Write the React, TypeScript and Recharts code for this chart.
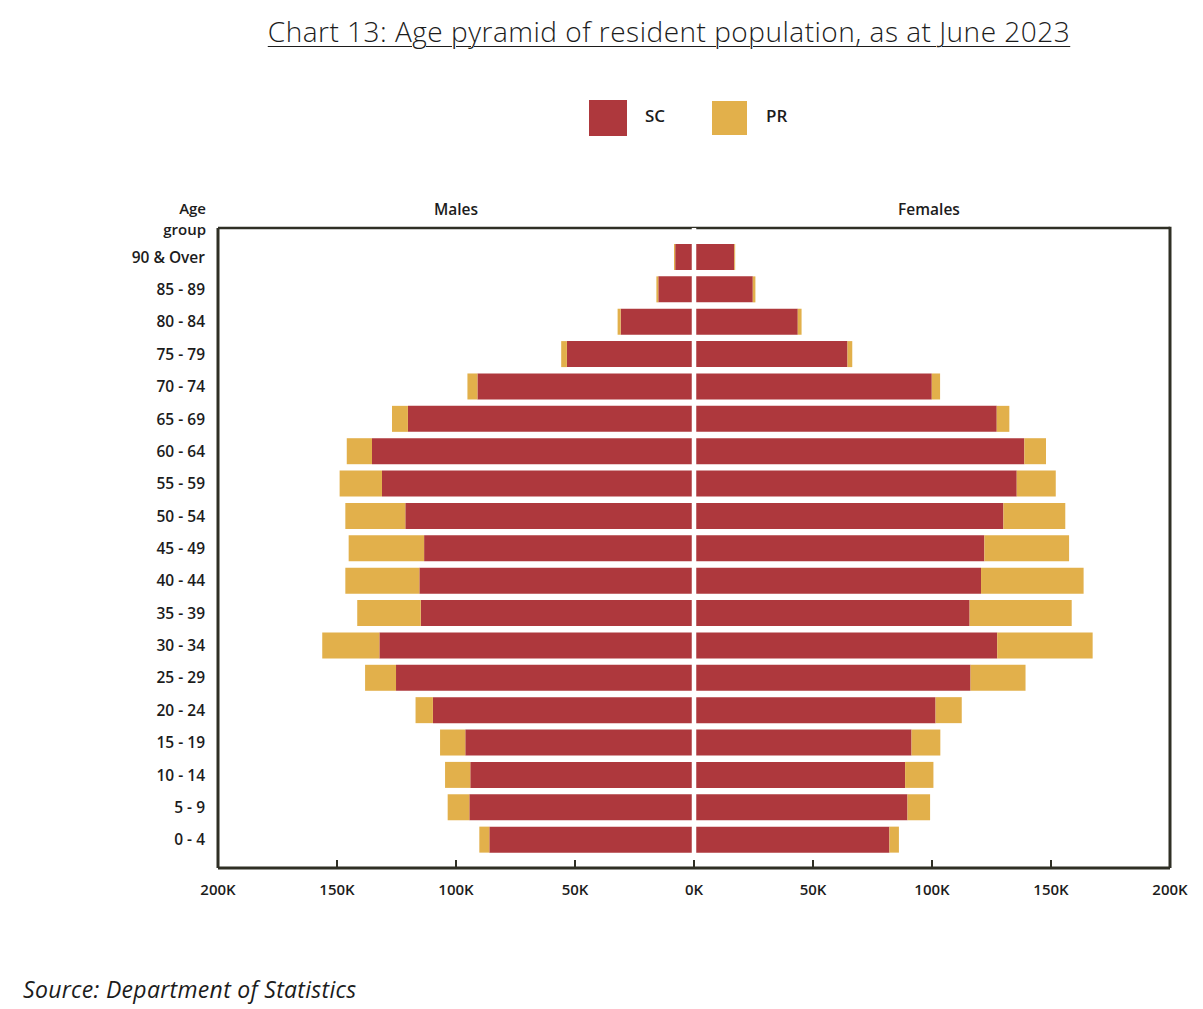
// Age pyramid: SC / PR residents by five-year age group, males to the left, females to the right.

import React from "react";
import {
  BarChart,
  Bar,
  XAxis,
  YAxis,
  ReferenceLine,
  usePlotArea,
} from "recharts";

// values in thousands, ordered top (oldest) to bottom (youngest)
const ageGroups = [
  "90 & Over", "85 - 89", "80 - 84", "75 - 79", "70 - 74", "65 - 69", "60 - 64",
  "55 - 59", "50 - 54", "45 - 49", "40 - 44", "35 - 39", "30 - 34", "25 - 29",
  "20 - 24", "15 - 19", "10 - 14", "5 - 9", "0 - 4",
];
const maleSC = [7.9, 15.0, 30.8, 53.4, 91.0, 120.2, 135.3, 131.1, 121.3, 113.4, 115.4, 114.8, 132.2, 125.2, 109.7, 96.1, 94.0, 94.4, 86.0];
const malePR = [0.5, 0.8, 1.3, 2.4, 4.2, 6.7, 10.6, 17.8, 25.2, 31.7, 31.1, 26.7, 24.0, 13.0, 7.3, 10.6, 10.6, 9.1, 4.2];
const femaleSC = [16.9, 24.7, 43.6, 64.5, 99.9, 127.2, 138.8, 135.6, 130.0, 122.0, 120.6, 115.8, 127.4, 116.2, 101.5, 91.4, 88.7, 89.7, 82.1];
const femalePR = [0.4, 1.1, 1.6, 2.0, 3.5, 5.3, 9.1, 16.4, 26.0, 35.6, 43.1, 42.9, 40.1, 23.1, 11.0, 12.1, 11.9, 9.5, 4.0];
const xTicks = [-200, -150, -100, -50, 0, 50, 100, 150, 200];

const SC_COLOR = "#ae383d";
const PR_COLOR = "#e2b04b";
const FRAME = "#2f2f25";
const FONT = "'Open Sans', 'Noto Sans', sans-serif";

// males go negative so they stack out to the left
const data = ageGroups.map((age, i) => ({
  age,
  maleSC: -maleSC[i],
  malePR: -malePR[i],
  femaleSC: femaleSC[i],
  femalePR: femalePR[i],
}));

const legendItems = [
  { name: "SC", color: SC_COLOR, left: 589, top: 100, w: 38, h: 36, textLeft: 645 },
  { name: "PR", color: PR_COLOR, left: 712, top: 101, w: 35, h: 34, textLeft: 766 },
];

const tickStyle = { fontSize: 15.5, fill: "#1c1c1c", fontFamily: FONT, fontWeight: 600 };

// top and right edges of the plot box (left/bottom come from the axes)
function PlotFrame() {
  const area = usePlotArea ? usePlotArea() : null;
  if (!area) return null;
  const { x, y, width, height } = area;
  return (
    <g>
      <line x1={x} y1={y} x2={x + width} y2={y} stroke={FRAME} strokeWidth={2.5} />
      <line x1={x + width} y1={y - 1.25} x2={x + width} y2={y + height} stroke={FRAME} strokeWidth={3} />
    </g>
  );
}

export default function App() {
  return (
    <div
      style={{
        position: "absolute",
        left: 0,
        top: 0,
        width: 1203,
        height: 1009,
        background: "#fff",
        fontFamily: FONT,
        color: "#1c1c1c",
      }}
    >
      <div
        style={{
          position: "absolute",
          left: 0,
          width: 1338,
          top: 12,
          textAlign: "center",
          fontSize: 28,
          fontWeight: 300,
          letterSpacing: 0.5,
          textDecoration: "underline",
          textUnderlineOffset: 4,
          textDecorationThickness: 1,
          whiteSpace: "nowrap",
        }}
      >
        Chart 13: Age pyramid of resident population, as at June 2023
      </div>

      {legendItems.map((item) => (
        <React.Fragment key={item.name}>
          <div
            style={{
              position: "absolute",
              left: item.left,
              top: item.top,
              width: item.w,
              height: item.h,
              background: item.color,
            }}
          />
          <div
            style={{
              position: "absolute",
              left: item.textLeft,
              top: 105,
              fontSize: 17,
              fontWeight: 600,
              lineHeight: "22px",
            }}
          >
            {item.name}
          </div>
        </React.Fragment>
      ))}

      <div
        style={{
          position: "absolute",
          right: 1203 - 206,
          top: 198,
          fontSize: 15,
          fontWeight: 600,
          lineHeight: "21px",
          textAlign: "right",
        }}
      >
        Age
        <br />
        group
      </div>
      <div style={{ position: "absolute", left: 356, width: 200, top: 200, textAlign: "center", fontSize: 15.5, fontWeight: 600, lineHeight: "19px" }}>
        Males
      </div>
      <div style={{ position: "absolute", left: 829, width: 200, top: 200, textAlign: "center", fontSize: 15.5, fontWeight: 600, lineHeight: "19px" }}>
        Females
      </div>

      <div style={{ position: "absolute", left: 0, top: 0 }}>
        <BarChart
          width={1203}
          height={1009}
          data={data}
          layout="vertical"
          stackOffset="sign"
          margin={{ top: 228, right: 33, bottom: 101, left: 98 }}
          barSize={26}
        >
          <XAxis
            type="number"
            domain={[-200, 200]}
            ticks={xTicks}
            tickFormatter={(v: number) => `${Math.abs(v)}K`}
            axisLine={{ stroke: FRAME, strokeWidth: 3 }}
            tickLine={{ stroke: FRAME, strokeWidth: 2 }}
            tickSize={-8}
            tickMargin={24}
            height={40}
            interval={0}
            tick={{ ...tickStyle, fontSize: 15 }}
          />
          <YAxis
            type="category"
            dataKey="age"
            width={120}
            padding={{ top: 13, bottom: 12 }}
            axisLine={{ stroke: FRAME, strokeWidth: 3 }}
            tickLine={false}
            tickSize={0}
            tickMargin={13}
            interval={0}
            tick={tickStyle}
          />
          <PlotFrame />
          <Bar dataKey="maleSC" name="SC" stackId="pop" fill={SC_COLOR} isAnimationActive={false} />
          <Bar dataKey="malePR" name="PR" stackId="pop" fill={PR_COLOR} isAnimationActive={false} />
          <Bar dataKey="femaleSC" name="SC" stackId="pop" fill={SC_COLOR} isAnimationActive={false} />
          <Bar dataKey="femalePR" name="PR" stackId="pop" fill={PR_COLOR} isAnimationActive={false} />
          <ReferenceLine x={0} stroke="#ffffff" strokeWidth={4.5} />
        </BarChart>
      </div>

      <div
        style={{
          position: "absolute",
          left: 23,
          top: 975,
          fontSize: 23,
          fontStyle: "italic",
          fontWeight: 400,
          letterSpacing: 0.3,
          lineHeight: "28px",
        }}
      >
        Source: Department of Statistics
      </div>
    </div>
  );
}
